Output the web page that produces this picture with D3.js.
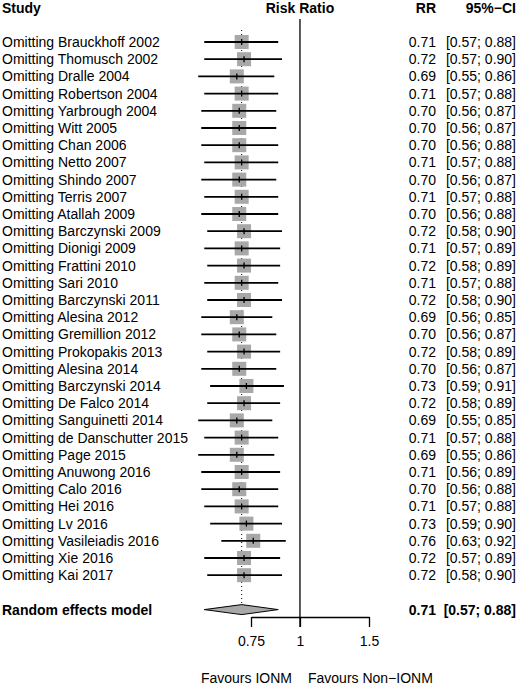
<!DOCTYPE html>
<html>
<head>
<meta charset="utf-8">
<script src="https://cdn.jsdelivr.net/npm/d3@7"></script>
<style>
  body { margin: 0; background: #fff; }
  svg text { font-family: "Liberation Sans", Arial, sans-serif; font-size: 14px; fill: #000; }
</style>
</head>
<body>
<div id="graph"></div>
<script>
  var studies = ["Brauckhoff 2002", "Thomusch 2002", "Dralle 2004", "Robertson 2004", "Yarbrough 2004",
    "Witt 2005", "Chan 2006", "Netto 2007", "Shindo 2007", "Terris 2007", "Atallah 2009",
    "Barczynski 2009", "Dionigi 2009", "Frattini 2010", "Sari 2010", "Barczynski 2011",
    "Alesina 2012", "Gremillion 2012", "Prokopakis 2013", "Alesina 2014", "Barczynski 2014",
    "De Falco 2014", "Sanguinetti 2014", "de Danschutter 2015", "Page 2015", "Anuwong 2016",
    "Calo 2016", "Hei 2016", "Lv 2016", "Vasileiadis 2016", "Xie 2016", "Kai 2017"];
  var rr = [0.71, 0.72, 0.69, 0.71, 0.70, 0.70, 0.70, 0.71, 0.70, 0.71, 0.70, 0.72, 0.71, 0.72, 0.71, 0.72,
    0.69, 0.70, 0.72, 0.70, 0.73, 0.72, 0.69, 0.71, 0.69, 0.71, 0.70, 0.71, 0.73, 0.76, 0.72, 0.72];
  var lower = [0.57, 0.57, 0.55, 0.57, 0.56, 0.56, 0.56, 0.57, 0.56, 0.57, 0.56, 0.58, 0.57, 0.58, 0.57, 0.58,
    0.56, 0.56, 0.58, 0.56, 0.59, 0.58, 0.55, 0.57, 0.55, 0.56, 0.56, 0.57, 0.59, 0.63, 0.57, 0.58];
  var upper = [0.88, 0.90, 0.86, 0.88, 0.87, 0.87, 0.88, 0.88, 0.87, 0.88, 0.88, 0.90, 0.89, 0.89, 0.88, 0.90,
    0.85, 0.87, 0.89, 0.87, 0.91, 0.89, 0.85, 0.88, 0.86, 0.89, 0.88, 0.88, 0.90, 0.92, 0.89, 0.90];
  var pooled = {rr: 0.71, lower: 0.57, upper: 0.88};
  var tickValues = [0.75, 1, 1.5];
  var tickLabels = ["0.75", "1", "1.5"];

  var width = 518, height = 685;
  var rows = studies.map(function(s, i) {
    return {label: "Omitting " + s, rr: rr[i], lower: lower[i], upper: upper[i], idx: i};
  });

  var svg = d3.select('#graph').append('svg')
    .attr('width', width)
    .attr('height', height);

  var xScale = d3.scaleLog().domain([0.75, 1.5]).range([251, 369]);
  var yScale = d3.scaleLinear().domain([0, 31]).range([42, 575.2]);
  var summaryY = yScale(33);
  var axisY = 617;
  var dy = 5;

  // headers
  svg.append('text').attr('x', 2).attr('y', 13).attr('font-weight', 'bold').text('Study');
  svg.append('text').attr('x', xScale(1)).attr('y', 13).attr('text-anchor', 'middle')
    .attr('font-weight', 'bold').text('Risk Ratio');
  svg.append('text').attr('x', 436).attr('y', 13).attr('text-anchor', 'end')
    .attr('font-weight', 'bold').text('RR');
  svg.append('text').attr('x', 516).attr('y', 13).attr('text-anchor', 'end')
    .attr('font-weight', 'bold').text('95%\u2212CI');

  // reference line at 1 and dotted pooled line
  svg.append('line')
    .attr('x1', xScale(1)).attr('x2', xScale(1))
    .attr('y1', 19).attr('y2', axisY + 10)
    .attr('stroke', '#000').attr('stroke-width', 1.3);
  svg.append('line')
    .attr('x1', xScale(pooled.rr)).attr('x2', xScale(pooled.rr))
    .attr('y1', 30).attr('y2', axisY)
    .attr('stroke', '#000').attr('stroke-width', 1)
    .attr('stroke-dasharray', '1,3');

  var g = svg.selectAll('g.row')
    .data(rows)
    .enter()
    .append('g')
    .attr('class', 'row');

  g.append('text')
    .attr('x', 2)
    .attr('y', function(d) { return yScale(d.idx) + dy; })
    .text(function(d) { return d.label; });

  g.append('rect')
    .attr('x', function(d) { return xScale(d.rr) - 7; })
    .attr('y', function(d) { return yScale(d.idx) - 7; })
    .attr('width', 14).attr('height', 14)
    .attr('fill', '#a8a8a8');

  g.append('line')
    .attr('x1', function(d) { return xScale(d.lower); })
    .attr('x2', function(d) { return xScale(d.upper); })
    .attr('y1', function(d) { return yScale(d.idx); })
    .attr('y2', function(d) { return yScale(d.idx); })
    .attr('stroke', '#000').attr('stroke-width', 1.8);

  g.append('line')
    .attr('x1', function(d) { return xScale(d.rr); })
    .attr('x2', function(d) { return xScale(d.rr); })
    .attr('y1', function(d) { return yScale(d.idx) - 3; })
    .attr('y2', function(d) { return yScale(d.idx) + 3; })
    .attr('stroke', '#000').attr('stroke-width', 1.3);

  g.append('text')
    .attr('x', 436)
    .attr('y', function(d) { return yScale(d.idx) + dy; })
    .attr('text-anchor', 'end')
    .text(function(d) { return d.rr.toFixed(2); });

  g.append('text')
    .attr('x', 516)
    .attr('y', function(d) { return yScale(d.idx) + dy; })
    .attr('text-anchor', 'end')
    .text(function(d) { return '[' + d.lower.toFixed(2) + '; ' + d.upper.toFixed(2) + ']'; });

  // pooled estimate
  svg.append('text').attr('x', 2).attr('y', summaryY + dy)
    .attr('font-weight', 'bold').text('Random effects model');
  svg.append('polygon')
    .attr('points', [
      [xScale(pooled.lower), summaryY],
      [xScale(pooled.rr), summaryY - 5],
      [xScale(pooled.upper), summaryY],
      [xScale(pooled.rr), summaryY + 5]
    ].map(function(p) { return p.join(','); }).join(' '))
    .attr('fill', '#a8a8a8').attr('stroke', '#000').attr('stroke-width', 1);
  svg.append('text').attr('x', 436).attr('y', summaryY + dy)
    .attr('text-anchor', 'end').attr('font-weight', 'bold').text(pooled.rr.toFixed(2));
  svg.append('text').attr('x', 516).attr('y', summaryY + dy)
    .attr('text-anchor', 'end').attr('font-weight', 'bold')
    .text('[' + pooled.lower.toFixed(2) + '; ' + pooled.upper.toFixed(2) + ']');

  // x axis
  var axis = d3.axisBottom(xScale)
    .tickValues(tickValues)
    .tickFormat(function(d, i) { return tickLabels[i]; })
    .tickSize(10)
    .tickPadding(9)
    .tickSizeOuter(0);
  var ax = svg.append('g')
    .attr('transform', 'translate(0,' + axisY + ')')
    .call(axis);
  ax.select('.domain').attr('stroke', '#000').attr('stroke-width', 1.3);
  ax.selectAll('.tick line').attr('stroke', '#000').attr('stroke-width', 1.3);
  ax.selectAll('.tick text')
    .attr('font-family', '"Liberation Sans", Arial, sans-serif')
    .attr('font-size', 14);

  svg.append('text').attr('x', xScale(1) - 8).attr('y', 683)
    .attr('text-anchor', 'end').text('Favours IONM');
  svg.append('text').attr('x', xScale(1) + 8).attr('y', 683)
    .text('Favours Non\u2212IONM');
</script>
</body>
</html>
